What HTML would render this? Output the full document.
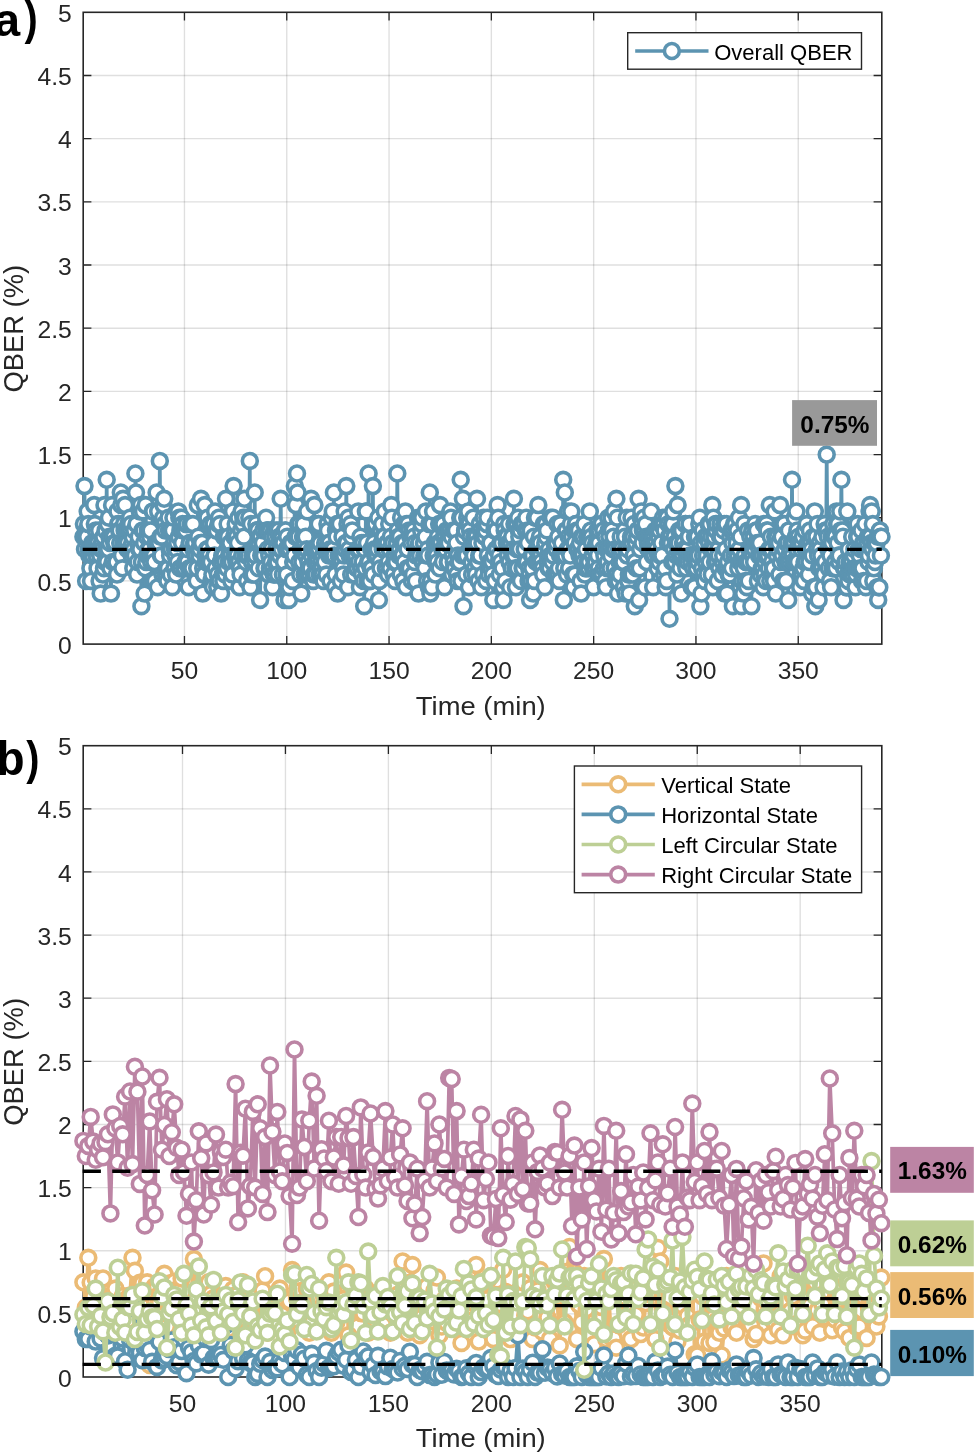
<!DOCTYPE html>
<html lang="en"><head><meta charset="utf-8"><title>QBER over time</title>
<style>html,body{margin:0;padding:0;background:#fff}body{width:975px;height:1453px;overflow:hidden}svg{display:block}</style>
</head><body>
<svg width="975" height="1453" viewBox="0 0 975 1453">
<rect width="975" height="1453" fill="#fff"/>
<defs>
<marker id="m_blue" markerUnits="userSpaceOnUse" markerWidth="24" markerHeight="24" refX="12" refY="12" viewBox="0 0 24 24" overflow="visible"><circle cx="12" cy="12" r="7.45" fill="#fff" stroke="#5c94b1" stroke-width="3.6"/></marker>
<marker id="m_orange" markerUnits="userSpaceOnUse" markerWidth="24" markerHeight="24" refX="12" refY="12" viewBox="0 0 24 24" overflow="visible"><circle cx="12" cy="12" r="7.45" fill="#fff" stroke="#ebbb75" stroke-width="3.6"/></marker>
<marker id="m_green" markerUnits="userSpaceOnUse" markerWidth="24" markerHeight="24" refX="12" refY="12" viewBox="0 0 24 24" overflow="visible"><circle cx="12" cy="12" r="7.45" fill="#fff" stroke="#bdcf95" stroke-width="3.6"/></marker>
<marker id="m_purple" markerUnits="userSpaceOnUse" markerWidth="24" markerHeight="24" refX="12" refY="12" viewBox="0 0 24 24" overflow="visible"><circle cx="12" cy="12" r="7.45" fill="#fff" stroke="#bc84a4" stroke-width="3.6"/></marker>
<clipPath id="ca"><rect x="0" y="0" width="975" height="700"/></clipPath>
<clipPath id="cb"><rect x="0" y="700" width="975" height="753"/></clipPath>
</defs>
<path d="M184.45 12.30V644.10M286.75 12.30V644.10M389.05 12.30V644.10M491.35 12.30V644.10M593.65 12.30V644.10M695.95 12.30V644.10M798.25 12.30V644.10" fill="none" stroke="#262626" stroke-opacity="0.15" stroke-width="1.35"/>
<path d="M83.20 580.92H881.80M83.20 517.74H881.80M83.20 454.56H881.80M83.20 391.38H881.80M83.20 328.20H881.80M83.20 265.02H881.80M83.20 201.84H881.80M83.20 138.66H881.80M83.20 75.48H881.80" fill="none" stroke="#262626" stroke-opacity="0.15" stroke-width="1.35"/>
<path d="M184.45 644.10v-8.20M184.45 12.30v8.20M286.75 644.10v-8.20M286.75 12.30v8.20M389.05 644.10v-8.20M389.05 12.30v8.20M491.35 644.10v-8.20M491.35 12.30v8.20M593.65 644.10v-8.20M593.65 12.30v8.20M695.95 644.10v-8.20M695.95 12.30v8.20M798.25 644.10v-8.20M798.25 12.30v8.20M83.20 580.92h8.20M881.80 580.92h-8.20M83.20 517.74h8.20M881.80 517.74h-8.20M83.20 454.56h8.20M881.80 454.56h-8.20M83.20 391.38h8.20M881.80 391.38h-8.20M83.20 328.20h8.20M881.80 328.20h-8.20M83.20 265.02h8.20M881.80 265.02h-8.20M83.20 201.84h8.20M881.80 201.84h-8.20M83.20 138.66h8.20M881.80 138.66h-8.20M83.20 75.48h8.20M881.80 75.48h-8.20" fill="none" stroke="#262626" stroke-width="1.3"/>
<rect x="83.20" y="12.30" width="798.60" height="631.80" fill="none" stroke="#262626" stroke-width="1.6"/>
<text transform="translate(184.45 679.30) scale(1.060 1)" text-anchor="middle" font-family='"Liberation Sans", Arial, Helvetica, sans-serif' font-size="23.3" fill="#262626">50</text>
<text transform="translate(286.75 679.30) scale(1.060 1)" text-anchor="middle" font-family='"Liberation Sans", Arial, Helvetica, sans-serif' font-size="23.3" fill="#262626">100</text>
<text transform="translate(389.05 679.30) scale(1.060 1)" text-anchor="middle" font-family='"Liberation Sans", Arial, Helvetica, sans-serif' font-size="23.3" fill="#262626">150</text>
<text transform="translate(491.35 679.30) scale(1.060 1)" text-anchor="middle" font-family='"Liberation Sans", Arial, Helvetica, sans-serif' font-size="23.3" fill="#262626">200</text>
<text transform="translate(593.65 679.30) scale(1.060 1)" text-anchor="middle" font-family='"Liberation Sans", Arial, Helvetica, sans-serif' font-size="23.3" fill="#262626">250</text>
<text transform="translate(695.95 679.30) scale(1.060 1)" text-anchor="middle" font-family='"Liberation Sans", Arial, Helvetica, sans-serif' font-size="23.3" fill="#262626">300</text>
<text transform="translate(798.25 679.30) scale(1.060 1)" text-anchor="middle" font-family='"Liberation Sans", Arial, Helvetica, sans-serif' font-size="23.3" fill="#262626">350</text>
<text transform="translate(71.80 653.70) scale(1.060 1)" text-anchor="end" font-family='"Liberation Sans", Arial, Helvetica, sans-serif' font-size="23.3" fill="#262626">0</text>
<text transform="translate(71.80 590.52) scale(1.060 1)" text-anchor="end" font-family='"Liberation Sans", Arial, Helvetica, sans-serif' font-size="23.3" fill="#262626">0.5</text>
<text transform="translate(71.80 527.34) scale(1.060 1)" text-anchor="end" font-family='"Liberation Sans", Arial, Helvetica, sans-serif' font-size="23.3" fill="#262626">1</text>
<text transform="translate(71.80 464.16) scale(1.060 1)" text-anchor="end" font-family='"Liberation Sans", Arial, Helvetica, sans-serif' font-size="23.3" fill="#262626">1.5</text>
<text transform="translate(71.80 400.98) scale(1.060 1)" text-anchor="end" font-family='"Liberation Sans", Arial, Helvetica, sans-serif' font-size="23.3" fill="#262626">2</text>
<text transform="translate(71.80 337.80) scale(1.060 1)" text-anchor="end" font-family='"Liberation Sans", Arial, Helvetica, sans-serif' font-size="23.3" fill="#262626">2.5</text>
<text transform="translate(71.80 274.62) scale(1.060 1)" text-anchor="end" font-family='"Liberation Sans", Arial, Helvetica, sans-serif' font-size="23.3" fill="#262626">3</text>
<text transform="translate(71.80 211.44) scale(1.060 1)" text-anchor="end" font-family='"Liberation Sans", Arial, Helvetica, sans-serif' font-size="23.3" fill="#262626">3.5</text>
<text transform="translate(71.80 148.26) scale(1.060 1)" text-anchor="end" font-family='"Liberation Sans", Arial, Helvetica, sans-serif' font-size="23.3" fill="#262626">4</text>
<text transform="translate(71.80 85.08) scale(1.060 1)" text-anchor="end" font-family='"Liberation Sans", Arial, Helvetica, sans-serif' font-size="23.3" fill="#262626">4.5</text>
<text transform="translate(71.80 21.90) scale(1.060 1)" text-anchor="end" font-family='"Liberation Sans", Arial, Helvetica, sans-serif' font-size="23.3" fill="#262626">5</text>
<text transform="translate(480.80 714.50) scale(1.062 1)" text-anchor="middle" font-family='"Liberation Sans", Arial, Helvetica, sans-serif' font-size="25.8" fill="#262626">Time (min)</text>
<text transform="translate(22.60 328.70) rotate(-90) scale(1.003 1)" text-anchor="middle" font-family='"Liberation Sans", Arial, Helvetica, sans-serif' font-size="27.3" fill="#262626">QBER (%)</text>
<polyline clip-path="url(#ca)" points="83.4,536.7 83.9,524.1 84.5,486.1 85.0,549.3 85.5,536.7 86.1,580.9 86.6,530.4 87.2,536.7 87.7,511.4 88.3,524.1 88.8,549.3 89.3,555.6 89.9,555.6 90.4,568.3 91.0,580.9 91.5,549.3 92.1,543.0 92.6,555.6 93.1,549.3 93.7,543.0 94.2,505.1 94.8,524.1 95.3,543.0 95.8,530.4 96.4,555.6 96.9,549.3 97.5,568.3 98.0,543.0 98.6,549.3 99.1,530.4 99.6,580.9 100.2,555.6 100.7,593.6 101.3,549.3 101.8,543.0 102.4,549.3 102.9,574.6 103.4,536.7 104.0,568.3 104.5,505.1 105.1,562.0 105.6,530.4 106.1,549.3 106.7,479.8 107.2,562.0 107.8,524.1 108.3,549.3 108.9,517.7 109.4,536.7 109.9,543.0 110.5,568.3 111.0,593.6 111.6,536.7 112.1,505.1 112.7,562.0 113.2,536.7 113.7,536.7 114.3,543.0 114.8,543.0 115.4,543.0 115.9,562.0 116.5,562.0 117.0,574.6 117.5,511.4 118.1,524.1 118.6,524.1 119.2,530.4 119.7,530.4 120.2,543.0 120.8,492.5 121.3,505.1 121.9,555.6 122.4,568.3 123.0,498.8 123.5,543.0 124.0,524.1 124.6,530.4 125.1,505.1 125.7,543.0 126.2,530.4 126.8,543.0 127.3,549.3 127.8,543.0 128.4,524.1 128.9,530.4 129.5,549.3 130.0,517.7 130.5,530.4 131.1,524.1 131.6,555.6 132.2,543.0 132.7,536.7 133.3,568.3 133.8,549.3 134.3,530.4 134.9,555.6 135.4,473.5 136.0,492.5 136.5,524.1 137.1,574.6 137.6,562.0 138.1,543.0 138.7,536.7 139.2,549.3 139.8,511.4 140.3,549.3 140.8,505.1 141.4,606.2 141.9,562.0 142.5,530.4 143.0,511.4 143.6,530.4 144.1,543.0 144.6,593.6 145.2,568.3 145.7,505.1 146.3,562.0 146.8,536.7 147.4,555.6 147.9,530.4 148.4,549.3 149.0,555.6 149.5,549.3 150.1,536.7 150.6,530.4 151.2,562.0 151.7,555.6 152.2,580.9 152.8,511.4 153.3,511.4 153.9,555.6 154.4,562.0 154.9,580.9 155.5,543.0 156.0,543.0 156.6,492.5 157.1,543.0 157.7,587.2 158.2,511.4 158.7,543.0 159.3,543.0 159.8,460.9 160.4,536.7 160.9,555.6 161.5,555.6 162.0,536.7 162.5,574.6 163.1,517.7 163.6,505.1 164.2,498.8 164.7,524.1 165.2,530.4 165.8,574.6 166.3,568.3 166.9,568.3 167.4,580.9 168.0,568.3 168.5,517.7 169.0,530.4 169.6,549.3 170.1,555.6 170.7,574.6 171.2,549.3 171.8,530.4 172.3,587.2 172.8,530.4 173.4,517.7 173.9,543.0 174.5,568.3 175.0,549.3 175.5,555.6 176.1,574.6 176.6,549.3 177.2,543.0 177.7,562.0 178.3,511.4 178.8,536.7 179.3,517.7 179.9,568.3 180.4,530.4 181.0,568.3 181.5,517.7 182.1,543.0 182.6,524.1 183.1,530.4 183.7,530.4 184.2,568.3 184.8,568.3 185.3,562.0 185.9,530.4 186.4,524.1 186.9,524.1 187.5,562.0 188.0,549.3 188.6,587.2 189.1,568.3 189.6,543.0 190.2,543.0 190.7,524.1 191.3,568.3 191.8,568.3 192.4,568.3 192.9,524.1 193.4,549.3 194.0,543.0 194.5,549.3 195.1,543.0 195.6,555.6 196.2,555.6 196.7,580.9 197.2,568.3 197.8,505.1 198.3,536.7 198.9,549.3 199.4,555.6 199.9,549.3 200.5,543.0 201.0,498.8 201.6,543.0 202.1,543.0 202.7,593.6 203.2,568.3 203.7,574.6 204.3,574.6 204.8,505.1 205.4,555.6 205.9,562.0 206.5,562.0 207.0,549.3 207.5,517.7 208.1,549.3 208.6,555.6 209.2,562.0 209.7,555.6 210.3,524.1 210.8,562.0 211.3,580.9 211.9,580.9 212.4,574.6 213.0,587.2 213.5,524.1 214.0,543.0 214.6,555.6 215.1,511.4 215.7,568.3 216.2,530.4 216.8,530.4 217.3,587.2 217.8,574.6 218.4,524.1 218.9,517.7 219.5,580.9 220.0,524.1 220.6,562.0 221.1,593.6 221.6,562.0 222.2,555.6 222.7,574.6 223.3,580.9 223.8,536.7 224.3,555.6 224.9,562.0 225.4,574.6 226.0,498.8 226.5,536.7 227.1,568.3 227.6,524.1 228.1,536.7 228.7,562.0 229.2,555.6 229.8,549.3 230.3,543.0 230.9,555.6 231.4,580.9 231.9,562.0 232.5,574.6 233.0,511.4 233.6,486.1 234.1,536.7 234.6,555.6 235.2,530.4 235.7,524.1 236.3,562.0 236.8,536.7 237.4,555.6 237.9,543.0 238.4,517.7 239.0,562.0 239.5,587.2 240.1,568.3 240.6,574.6 241.2,530.4 241.7,511.4 242.2,555.6 242.8,524.1 243.3,517.7 243.9,536.7 244.4,498.8 245.0,517.7 245.5,555.6 246.0,562.0 246.6,555.6 247.1,580.9 247.7,555.6 248.2,555.6 248.7,555.6 249.3,517.7 249.8,460.9 250.4,587.2 250.9,524.1 251.5,574.6 252.0,562.0 252.5,555.6 253.1,555.6 253.6,574.6 254.2,555.6 254.7,492.5 255.3,562.0 255.8,555.6 256.3,524.1 256.9,530.4 257.4,530.4 258.0,530.4 258.5,568.3 259.0,543.0 259.6,536.7 260.1,599.9 260.7,536.7 261.2,555.6 261.8,549.3 262.3,555.6 262.8,543.0 263.4,530.4 263.9,555.6 264.5,568.3 265.0,568.3 265.6,524.1 266.1,517.7 266.6,530.4 267.2,530.4 267.7,549.3 268.3,530.4 268.8,574.6 269.3,555.6 269.9,568.3 270.4,530.4 271.0,562.0 271.5,549.3 272.1,536.7 272.6,587.2 273.1,568.3 273.7,574.6 274.2,530.4 274.8,574.6 275.3,536.7 275.9,562.0 276.4,549.3 276.9,530.4 277.5,562.0 278.0,574.6 278.6,530.4 279.1,536.7 279.7,555.6 280.2,549.3 280.7,498.8 281.3,549.3 281.8,536.7 282.4,536.7 282.9,574.6 283.4,543.0 284.0,562.0 284.5,599.9 285.1,530.4 285.6,530.4 286.2,549.3 286.7,574.6 287.2,536.7 287.8,549.3 288.3,593.6 288.9,599.9 289.4,587.2 290.0,549.3 290.5,543.0 291.0,543.0 291.6,543.0 292.1,543.0 292.7,580.9 293.2,562.0 293.7,562.0 294.3,555.6 294.8,486.1 295.4,536.7 295.9,505.1 296.5,536.7 297.0,473.5 297.5,492.5 298.1,524.1 298.6,536.7 299.2,562.0 299.7,524.1 300.3,574.6 300.8,549.3 301.3,593.6 301.9,549.3 302.4,562.0 303.0,536.7 303.5,524.1 304.0,549.3 304.6,574.6 305.1,543.0 305.7,536.7 306.2,555.6 306.8,549.3 307.3,511.4 307.8,574.6 308.4,562.0 308.9,568.3 309.5,568.3 310.0,574.6 310.6,568.3 311.1,498.8 311.6,555.6 312.2,549.3 312.7,549.3 313.3,580.9 313.8,574.6 314.4,505.1 314.9,562.0 315.4,549.3 316.0,574.6 316.5,549.3 317.1,562.0 317.6,562.0 318.1,524.1 318.7,524.1 319.2,549.3 319.8,574.6 320.3,543.0 320.9,562.0 321.4,568.3 321.9,568.3 322.5,574.6 323.0,555.6 323.6,580.9 324.1,549.3 324.7,562.0 325.2,543.0 325.7,549.3 326.3,574.6 326.8,549.3 327.4,524.1 327.9,530.4 328.4,543.0 329.0,555.6 329.5,543.0 330.1,549.3 330.6,580.9 331.2,555.6 331.7,517.7 332.2,555.6 332.8,511.4 333.3,549.3 333.9,492.5 334.4,555.6 335.0,587.2 335.5,574.6 336.0,530.4 336.6,536.7 337.1,524.1 337.7,593.6 338.2,524.1 338.7,555.6 339.3,555.6 339.8,524.1 340.4,555.6 340.9,580.9 341.5,555.6 342.0,562.0 342.5,536.7 343.1,568.3 343.6,574.6 344.2,555.6 344.7,511.4 345.3,549.3 345.8,543.0 346.3,486.1 346.9,543.0 347.4,524.1 348.0,587.2 348.5,517.7 349.1,549.3 349.6,555.6 350.1,555.6 350.7,524.1 351.2,574.6 351.8,536.7 352.3,530.4 352.8,555.6 353.4,555.6 353.9,555.6 354.5,574.6 355.0,555.6 355.6,562.0 356.1,555.6 356.6,568.3 357.2,568.3 357.7,549.3 358.3,511.4 358.8,562.0 359.4,549.3 359.9,587.2 360.4,536.7 361.0,568.3 361.5,543.0 362.1,574.6 362.6,562.0 363.1,543.0 363.7,580.9 364.2,606.2 364.8,549.3 365.3,568.3 365.9,511.4 366.4,511.4 366.9,543.0 367.5,580.9 368.0,562.0 368.6,473.5 369.1,562.0 369.7,580.9 370.2,580.9 370.7,568.3 371.3,549.3 371.8,568.3 372.4,549.3 372.9,486.1 373.4,574.6 374.0,543.0 374.5,549.3 375.1,555.6 375.6,524.1 376.2,555.6 376.7,555.6 377.2,555.6 377.8,549.3 378.3,517.7 378.9,599.9 379.4,580.9 380.0,562.0 380.5,568.3 381.0,530.4 381.6,543.0 382.1,524.1 382.7,549.3 383.2,536.7 383.8,543.0 384.3,536.7 384.8,511.4 385.4,549.3 385.9,568.3 386.5,568.3 387.0,543.0 387.5,543.0 388.1,574.6 388.6,562.0 389.2,524.1 389.7,549.3 390.3,568.3 390.8,536.7 391.3,505.1 391.9,517.7 392.4,543.0 393.0,543.0 393.5,574.6 394.1,562.0 394.6,555.6 395.1,580.9 395.7,549.3 396.2,562.0 396.8,543.0 397.3,473.5 397.8,530.4 398.4,536.7 398.9,555.6 399.5,549.3 400.0,536.7 400.6,574.6 401.1,517.7 401.6,555.6 402.2,543.0 402.7,555.6 403.3,580.9 403.8,524.1 404.4,562.0 404.9,543.0 405.4,511.4 406.0,587.2 406.5,524.1 407.1,568.3 407.6,549.3 408.1,524.1 408.7,568.3 409.2,530.4 409.8,568.3 410.3,536.7 410.9,536.7 411.4,543.0 411.9,580.9 412.5,530.4 413.0,574.6 413.6,530.4 414.1,536.7 414.7,562.0 415.2,543.0 415.7,580.9 416.3,555.6 416.8,555.6 417.4,549.3 417.9,517.7 418.5,593.6 419.0,543.0 419.5,543.0 420.1,555.6 420.6,517.7 421.2,530.4 421.7,524.1 422.2,517.7 422.8,562.0 423.3,562.0 423.9,543.0 424.4,555.6 425.0,568.3 425.5,536.7 426.0,511.4 426.6,555.6 427.1,580.9 427.7,549.3 428.2,555.6 428.8,587.2 429.3,524.1 429.8,492.5 430.4,593.6 430.9,580.9 431.5,524.1 432.0,587.2 432.5,524.1 433.1,511.4 433.6,555.6 434.2,555.6 434.7,543.0 435.3,574.6 435.8,562.0 436.3,543.0 436.9,555.6 437.4,562.0 438.0,536.7 438.5,543.0 439.1,524.1 439.6,568.3 440.1,505.1 440.7,543.0 441.2,524.1 441.8,524.1 442.3,549.3 442.8,562.0 443.4,524.1 443.9,536.7 444.5,587.2 445.0,536.7 445.6,549.3 446.1,543.0 446.6,530.4 447.2,543.0 447.7,562.0 448.3,562.0 448.8,543.0 449.4,530.4 449.9,530.4 450.4,511.4 451.0,517.7 451.5,536.7 452.1,574.6 452.6,555.6 453.2,530.4 453.7,562.0 454.2,568.3 454.8,568.3 455.3,549.3 455.9,530.4 456.4,543.0 456.9,574.6 457.5,580.9 458.0,555.6 458.6,562.0 459.1,562.0 459.7,562.0 460.2,517.7 460.7,479.8 461.3,580.9 461.8,517.7 462.4,555.6 462.9,498.8 463.5,606.2 464.0,536.7 464.5,555.6 465.1,530.4 465.6,530.4 466.2,574.6 466.7,555.6 467.2,517.7 467.8,524.1 468.3,511.4 468.9,587.2 469.4,524.1 470.0,530.4 470.5,536.7 471.0,549.3 471.6,562.0 472.1,574.6 472.7,543.0 473.2,517.7 473.8,555.6 474.3,536.7 474.8,568.3 475.4,543.0 475.9,574.6 476.5,536.7 477.0,498.8 477.5,543.0 478.1,562.0 478.6,580.9 479.2,555.6 479.7,524.1 480.3,555.6 480.8,530.4 481.3,587.2 481.9,536.7 482.4,543.0 483.0,574.6 483.5,517.7 484.1,530.4 484.6,536.7 485.1,536.7 485.7,530.4 486.2,580.9 486.8,524.1 487.3,517.7 487.9,555.6 488.4,568.3 488.9,574.6 489.5,562.0 490.0,543.0 490.6,543.0 491.1,568.3 491.6,562.0 492.2,562.0 492.7,574.6 493.3,599.9 493.8,555.6 494.4,530.4 494.9,580.9 495.4,524.1 496.0,549.3 496.5,530.4 497.1,549.3 497.6,505.1 498.2,517.7 498.7,562.0 499.2,555.6 499.8,574.6 500.3,543.0 500.9,562.0 501.4,543.0 501.9,543.0 502.5,568.3 503.0,587.2 503.6,599.9 504.1,524.1 504.7,530.4 505.2,580.9 505.7,536.7 506.3,536.7 506.8,543.0 507.4,536.7 507.9,555.6 508.5,543.0 509.0,524.1 509.5,562.0 510.1,587.2 510.6,549.3 511.2,543.0 511.7,568.3 512.2,536.7 512.8,555.6 513.3,549.3 513.9,498.8 514.4,524.1 515.0,555.6 515.5,568.3 516.0,587.2 516.6,524.1 517.1,549.3 517.7,568.3 518.2,517.7 518.8,530.4 519.3,536.7 519.8,549.3 520.4,530.4 520.9,580.9 521.5,524.1 522.0,524.1 522.6,568.3 523.1,568.3 523.6,524.1 524.2,524.1 524.7,549.3 525.3,562.0 525.8,530.4 526.3,517.7 526.9,562.0 527.4,530.4 528.0,543.0 528.5,580.9 529.1,568.3 529.6,574.6 530.1,599.9 530.7,530.4 531.2,580.9 531.8,555.6 532.3,568.3 532.9,555.6 533.4,593.6 533.9,536.7 534.5,580.9 535.0,517.7 535.6,517.7 536.1,562.0 536.6,549.3 537.2,517.7 537.7,543.0 538.3,505.1 538.8,562.0 539.4,549.3 539.9,536.7 540.4,543.0 541.0,555.6 541.5,562.0 542.1,568.3 542.6,568.3 543.2,574.6 543.7,524.1 544.2,549.3 544.8,587.2 545.3,543.0 545.9,524.1 546.4,536.7 547.0,530.4 547.5,562.0 548.0,555.6 548.6,568.3 549.1,549.3 549.7,568.3 550.2,555.6 550.7,517.7 551.3,555.6 551.8,555.6 552.4,562.0 552.9,517.7 553.5,555.6 554.0,574.6 554.5,543.0 555.1,574.6 555.6,574.6 556.2,549.3 556.7,543.0 557.3,524.1 557.8,574.6 558.3,536.7 558.9,568.3 559.4,580.9 560.0,555.6 560.5,524.1 561.0,555.6 561.6,543.0 562.1,555.6 562.7,555.6 563.2,479.8 563.8,599.9 564.3,568.3 564.8,492.5 565.4,555.6 565.9,530.4 566.5,530.4 567.0,574.6 567.6,549.3 568.1,511.4 568.6,536.7 569.2,568.3 569.7,549.3 570.3,555.6 570.8,524.1 571.3,511.4 571.9,536.7 572.4,587.2 573.0,574.6 573.5,587.2 574.1,530.4 574.6,543.0 575.1,574.6 575.7,524.1 576.2,524.1 576.8,530.4 577.3,549.3 577.9,549.3 578.4,549.3 578.9,530.4 579.5,555.6 580.0,543.0 580.6,580.9 581.1,593.6 581.7,536.7 582.2,555.6 582.7,555.6 583.3,536.7 583.8,562.0 584.4,524.1 584.9,574.6 585.4,568.3 586.0,549.3 586.5,568.3 587.1,536.7 587.6,562.0 588.2,536.7 588.7,568.3 589.2,562.0 589.8,511.4 590.3,536.7 590.9,530.4 591.4,536.7 592.0,543.0 592.5,555.6 593.0,568.3 593.6,587.2 594.1,549.3 594.7,562.0 595.2,568.3 595.7,562.0 596.3,543.0 596.8,543.0 597.4,530.4 597.9,555.6 598.5,568.3 599.0,543.0 599.5,530.4 600.1,574.6 600.6,574.6 601.2,524.1 601.7,524.1 602.3,574.6 602.8,549.3 603.3,530.4 603.9,568.3 604.4,555.6 605.0,580.9 605.5,536.7 606.0,587.2 606.6,549.3 607.1,568.3 607.7,562.0 608.2,517.7 608.8,530.4 609.3,536.7 609.8,549.3 610.4,568.3 610.9,555.6 611.5,517.7 612.0,530.4 612.6,543.0 613.1,549.3 613.6,536.7 614.2,511.4 614.7,568.3 615.3,549.3 615.8,580.9 616.4,498.8 616.9,574.6 617.4,517.7 618.0,593.6 618.5,580.9 619.1,549.3 619.6,562.0 620.1,574.6 620.7,536.7 621.2,555.6 621.8,549.3 622.3,562.0 622.9,562.0 623.4,562.0 623.9,587.2 624.5,530.4 625.0,536.7 625.6,593.6 626.1,549.3 626.7,517.7 627.2,555.6 627.7,549.3 628.3,580.9 628.8,574.6 629.4,593.6 629.9,574.6 630.4,543.0 631.0,536.7 631.5,517.7 632.1,543.0 632.6,574.6 633.2,536.7 633.7,555.6 634.2,524.1 634.8,606.2 635.3,562.0 635.9,543.0 636.4,568.3 637.0,536.7 637.5,530.4 638.0,530.4 638.6,498.8 639.1,599.9 639.7,568.3 640.2,549.3 640.7,517.7 641.3,511.4 641.8,524.1 642.4,543.0 642.9,530.4 643.5,530.4 644.0,517.7 644.5,530.4 645.1,587.2 645.6,524.1 646.2,536.7 646.7,562.0 647.3,536.7 647.8,543.0 648.3,549.3 648.9,549.3 649.4,536.7 650.0,549.3 650.5,536.7 651.1,511.4 651.6,543.0 652.1,536.7 652.7,555.6 653.2,587.2 653.8,536.7 654.3,555.6 654.8,543.0 655.4,530.4 655.9,543.0 656.5,549.3 657.0,530.4 657.6,568.3 658.1,555.6 658.6,536.7 659.2,562.0 659.7,530.4 660.3,555.6 660.8,524.1 661.4,543.0 661.9,555.6 662.4,555.6 663.0,517.7 663.5,524.1 664.1,574.6 664.6,530.4 665.1,568.3 665.7,587.2 666.2,517.7 666.8,580.9 667.3,517.7 667.9,543.0 668.4,524.1 668.9,536.7 669.5,618.8 670.0,543.0 670.6,536.7 671.1,543.0 671.7,524.1 672.2,562.0 672.7,524.1 673.3,511.4 673.8,549.3 674.4,536.7 674.9,562.0 675.4,486.1 676.0,543.0 676.5,555.6 677.1,574.6 677.6,505.1 678.2,543.0 678.7,543.0 679.2,530.4 679.8,555.6 680.3,568.3 680.9,555.6 681.4,593.6 682.0,530.4 682.5,555.6 683.0,543.0 683.6,543.0 684.1,549.3 684.7,562.0 685.2,524.1 685.8,524.1 686.3,568.3 686.8,555.6 687.4,549.3 687.9,562.0 688.5,536.7 689.0,536.7 689.5,524.1 690.1,555.6 690.6,555.6 691.2,562.0 691.7,587.2 692.3,555.6 692.8,555.6 693.3,568.3 693.9,555.6 694.4,587.2 695.0,536.7 695.5,536.7 696.1,555.6 696.6,568.3 697.1,536.7 697.7,536.7 698.2,562.0 698.8,555.6 699.3,524.1 699.8,517.7 700.4,606.2 700.9,543.0 701.5,593.6 702.0,568.3 702.6,530.4 703.1,555.6 703.6,574.6 704.2,543.0 704.7,580.9 705.3,536.7 705.8,562.0 706.4,555.6 706.9,555.6 707.4,574.6 708.0,536.7 708.5,524.1 709.1,543.0 709.6,562.0 710.1,524.1 710.7,549.3 711.2,536.7 711.8,574.6 712.3,505.1 712.9,587.2 713.4,517.7 713.9,549.3 714.5,536.7 715.0,562.0 715.6,524.1 716.1,530.4 716.7,524.1 717.2,562.0 717.7,580.9 718.3,549.3 718.8,555.6 719.4,568.3 719.9,536.7 720.5,524.1 721.0,536.7 721.5,536.7 722.1,574.6 722.6,562.0 723.2,555.6 723.7,530.4 724.2,524.1 724.8,593.6 725.3,568.3 725.9,549.3 726.4,524.1 727.0,593.6 727.5,568.3 728.0,562.0 728.6,574.6 729.1,574.6 729.7,574.6 730.2,536.7 730.8,555.6 731.3,530.4 731.8,568.3 732.4,543.0 732.9,606.2 733.5,530.4 734.0,524.1 734.5,555.6 735.1,524.1 735.6,536.7 736.2,549.3 736.7,543.0 737.3,530.4 737.8,555.6 738.3,568.3 738.9,517.7 739.4,549.3 740.0,562.0 740.5,536.7 741.1,505.1 741.6,606.2 742.1,580.9 742.7,562.0 743.2,593.6 743.8,568.3 744.3,524.1 744.8,555.6 745.4,580.9 745.9,562.0 746.5,562.0 747.0,587.2 747.6,562.0 748.1,530.4 748.6,580.9 749.2,549.3 749.7,562.0 750.3,536.7 750.8,549.3 751.4,606.2 751.9,549.3 752.4,530.4 753.0,555.6 753.5,536.7 754.1,562.0 754.6,549.3 755.2,524.1 755.7,543.0 756.2,530.4 756.8,530.4 757.3,543.0 757.9,580.9 758.4,543.0 758.9,555.6 759.5,549.3 760.0,543.0 760.6,574.6 761.1,555.6 761.7,568.3 762.2,555.6 762.7,568.3 763.3,587.2 763.8,524.1 764.4,574.6 764.9,562.0 765.5,555.6 766.0,580.9 766.5,524.1 767.1,530.4 767.6,530.4 768.2,555.6 768.7,568.3 769.2,549.3 769.8,505.1 770.3,580.9 770.9,536.7 771.4,549.3 772.0,562.0 772.5,574.6 773.0,568.3 773.6,568.3 774.1,580.9 774.7,511.4 775.2,536.7 775.8,593.6 776.3,543.0 776.8,555.6 777.4,536.7 777.9,549.3 778.5,549.3 779.0,543.0 779.5,574.6 780.1,505.1 780.6,562.0 781.2,536.7 781.7,536.7 782.3,555.6 782.8,524.1 783.3,580.9 783.9,580.9 784.4,524.1 785.0,549.3 785.5,562.0 786.1,580.9 786.6,543.0 787.1,562.0 787.7,543.0 788.2,599.9 788.8,530.4 789.3,555.6 789.9,562.0 790.4,549.3 790.9,549.3 791.5,543.0 792.0,479.8 792.6,555.6 793.1,562.0 793.6,562.0 794.2,543.0 794.7,517.7 795.3,562.0 795.8,536.7 796.4,511.4 796.9,549.3 797.4,530.4 798.0,562.0 798.5,536.7 799.1,543.0 799.6,543.0 800.2,587.2 800.7,574.6 801.2,549.3 801.8,543.0 802.3,574.6 802.9,536.7 803.4,568.3 803.9,580.9 804.5,562.0 805.0,530.4 805.6,549.3 806.1,562.0 806.7,524.1 807.2,549.3 807.7,543.0 808.3,543.0 808.8,574.6 809.4,562.0 809.9,530.4 810.5,549.3 811.0,543.0 811.5,549.3 812.1,593.6 812.6,555.6 813.2,536.7 813.7,587.2 814.2,587.2 814.8,511.4 815.3,606.2 815.9,587.2 816.4,536.7 817.0,549.3 817.5,524.1 818.0,555.6 818.6,599.9 819.1,568.3 819.7,543.0 820.2,549.3 820.8,568.3 821.3,555.6 821.8,568.3 822.4,536.7 822.9,574.6 823.5,587.2 824.0,574.6 824.6,524.1 825.1,562.0 825.6,530.4 826.2,530.4 826.7,454.6 827.3,530.4 827.8,536.7 828.3,549.3 828.9,568.3 829.4,549.3 830.0,580.9 830.5,555.6 831.1,587.2 831.6,536.7 832.1,543.0 832.7,568.3 833.2,524.1 833.8,568.3 834.3,536.7 834.9,562.0 835.4,536.7 835.9,568.3 836.5,511.4 837.0,524.1 837.6,543.0 838.1,524.1 838.6,555.6 839.2,562.0 839.7,555.6 840.3,511.4 840.8,530.4 841.4,479.8 841.9,536.7 842.4,530.4 843.0,536.7 843.5,599.9 844.1,568.3 844.6,568.3 845.2,562.0 845.7,562.0 846.2,587.2 846.8,587.2 847.3,511.4 847.9,574.6 848.4,580.9 848.9,549.3 849.5,562.0 850.0,574.6 850.6,562.0 851.1,574.6 851.7,562.0 852.2,536.7 852.7,574.6 853.3,568.3 853.8,555.6 854.4,549.3 854.9,568.3 855.5,587.2 856.0,574.6 856.5,568.3 857.1,536.7 857.6,524.1 858.2,536.7 858.7,549.3 859.3,568.3 859.8,555.6 860.3,568.3 860.9,549.3 861.4,530.4 862.0,580.9 862.5,568.3 863.0,543.0 863.6,580.9 864.1,543.0 864.7,549.3 865.2,524.1 865.8,587.2 866.3,549.3 866.8,580.9 867.4,543.0 867.9,536.7 868.5,562.0 869.0,555.6 869.6,511.4 870.1,505.1 870.6,536.7 871.2,543.0 871.7,511.4 872.3,549.3 872.8,524.1 873.3,580.9 873.9,568.3 874.4,543.0 875.0,562.0 875.5,555.6 876.1,543.0 876.6,543.0 877.1,587.2 877.7,536.7 878.2,599.9 878.8,587.2 879.3,587.2 879.9,530.4 880.4,536.7 880.9,555.6 881.5,536.7" fill="none" stroke="#5c94b1" stroke-width="3.7" stroke-linejoin="round" marker-start="url(#m_blue)" marker-mid="url(#m_blue)" marker-end="url(#m_blue)"/>
<line x1="82.70" y1="549.33" x2="881.80" y2="549.33" stroke="#000" stroke-width="3.35" stroke-dasharray="14.7 14.7"/>
<rect x="627.7" y="32.7" width="233.8" height="36.5" fill="#fff" stroke="#262626" stroke-width="1.4"/>
<line x1="635.20" y1="51.00" x2="708.50" y2="51.00" stroke="#5c94b1" stroke-width="3.7"/>
<circle cx="671.85" cy="51.00" r="7.45" fill="#fff" stroke="#5c94b1" stroke-width="3.6"/>
<text transform="translate(714.20 59.60) scale(1.040 1)" text-anchor="start" font-family='"Liberation Sans", Arial, Helvetica, sans-serif' font-size="21.2" fill="#000">Overall QBER</text>
<rect x="792.10" y="400.10" width="84.90" height="45.70" fill="#999999"/>
<text transform="translate(834.85 432.55) scale(1.050 1)" text-anchor="middle" font-family='"Liberation Sans", Arial, Helvetica, sans-serif' font-size="23.2" font-weight="bold" fill="#000">0.75%</text>
<text transform="translate(-6.00 35.70) scale(1.000 1)" text-anchor="start" font-family='"Liberation Sans", Arial, Helvetica, sans-serif' font-size="47" font-weight="bold" fill="#000">a<tspan dx="4.4" dy="-1.6" font-size="46.6" textLength="13.2" lengthAdjust="spacingAndGlyphs">)</tspan></text>
<path d="M182.50 745.70V1377.00M285.45 745.70V1377.00M388.40 745.70V1377.00M491.35 745.70V1377.00M594.30 745.70V1377.00M697.25 745.70V1377.00M800.20 745.70V1377.00" fill="none" stroke="#262626" stroke-opacity="0.15" stroke-width="1.35"/>
<path d="M83.20 1313.87H881.80M83.20 1250.74H881.80M83.20 1187.61H881.80M83.20 1124.48H881.80M83.20 1061.35H881.80M83.20 998.22H881.80M83.20 935.09H881.80M83.20 871.96H881.80M83.20 808.83H881.80" fill="none" stroke="#262626" stroke-opacity="0.15" stroke-width="1.35"/>
<path d="M182.50 1377.00v-8.20M182.50 745.70v8.20M285.45 1377.00v-8.20M285.45 745.70v8.20M388.40 1377.00v-8.20M388.40 745.70v8.20M491.35 1377.00v-8.20M491.35 745.70v8.20M594.30 1377.00v-8.20M594.30 745.70v8.20M697.25 1377.00v-8.20M697.25 745.70v8.20M800.20 1377.00v-8.20M800.20 745.70v8.20M83.20 1313.87h8.20M881.80 1313.87h-8.20M83.20 1250.74h8.20M881.80 1250.74h-8.20M83.20 1187.61h8.20M881.80 1187.61h-8.20M83.20 1124.48h8.20M881.80 1124.48h-8.20M83.20 1061.35h8.20M881.80 1061.35h-8.20M83.20 998.22h8.20M881.80 998.22h-8.20M83.20 935.09h8.20M881.80 935.09h-8.20M83.20 871.96h8.20M881.80 871.96h-8.20M83.20 808.83h8.20M881.80 808.83h-8.20" fill="none" stroke="#262626" stroke-width="1.3"/>
<rect x="83.20" y="745.70" width="798.60" height="631.30" fill="none" stroke="#262626" stroke-width="1.6"/>
<text transform="translate(182.50 1412.20) scale(1.060 1)" text-anchor="middle" font-family='"Liberation Sans", Arial, Helvetica, sans-serif' font-size="23.3" fill="#262626">50</text>
<text transform="translate(285.45 1412.20) scale(1.060 1)" text-anchor="middle" font-family='"Liberation Sans", Arial, Helvetica, sans-serif' font-size="23.3" fill="#262626">100</text>
<text transform="translate(388.40 1412.20) scale(1.060 1)" text-anchor="middle" font-family='"Liberation Sans", Arial, Helvetica, sans-serif' font-size="23.3" fill="#262626">150</text>
<text transform="translate(491.35 1412.20) scale(1.060 1)" text-anchor="middle" font-family='"Liberation Sans", Arial, Helvetica, sans-serif' font-size="23.3" fill="#262626">200</text>
<text transform="translate(594.30 1412.20) scale(1.060 1)" text-anchor="middle" font-family='"Liberation Sans", Arial, Helvetica, sans-serif' font-size="23.3" fill="#262626">250</text>
<text transform="translate(697.25 1412.20) scale(1.060 1)" text-anchor="middle" font-family='"Liberation Sans", Arial, Helvetica, sans-serif' font-size="23.3" fill="#262626">300</text>
<text transform="translate(800.20 1412.20) scale(1.060 1)" text-anchor="middle" font-family='"Liberation Sans", Arial, Helvetica, sans-serif' font-size="23.3" fill="#262626">350</text>
<text transform="translate(71.80 1386.60) scale(1.060 1)" text-anchor="end" font-family='"Liberation Sans", Arial, Helvetica, sans-serif' font-size="23.3" fill="#262626">0</text>
<text transform="translate(71.80 1323.47) scale(1.060 1)" text-anchor="end" font-family='"Liberation Sans", Arial, Helvetica, sans-serif' font-size="23.3" fill="#262626">0.5</text>
<text transform="translate(71.80 1260.34) scale(1.060 1)" text-anchor="end" font-family='"Liberation Sans", Arial, Helvetica, sans-serif' font-size="23.3" fill="#262626">1</text>
<text transform="translate(71.80 1197.21) scale(1.060 1)" text-anchor="end" font-family='"Liberation Sans", Arial, Helvetica, sans-serif' font-size="23.3" fill="#262626">1.5</text>
<text transform="translate(71.80 1134.08) scale(1.060 1)" text-anchor="end" font-family='"Liberation Sans", Arial, Helvetica, sans-serif' font-size="23.3" fill="#262626">2</text>
<text transform="translate(71.80 1070.95) scale(1.060 1)" text-anchor="end" font-family='"Liberation Sans", Arial, Helvetica, sans-serif' font-size="23.3" fill="#262626">2.5</text>
<text transform="translate(71.80 1007.82) scale(1.060 1)" text-anchor="end" font-family='"Liberation Sans", Arial, Helvetica, sans-serif' font-size="23.3" fill="#262626">3</text>
<text transform="translate(71.80 944.69) scale(1.060 1)" text-anchor="end" font-family='"Liberation Sans", Arial, Helvetica, sans-serif' font-size="23.3" fill="#262626">3.5</text>
<text transform="translate(71.80 881.56) scale(1.060 1)" text-anchor="end" font-family='"Liberation Sans", Arial, Helvetica, sans-serif' font-size="23.3" fill="#262626">4</text>
<text transform="translate(71.80 818.43) scale(1.060 1)" text-anchor="end" font-family='"Liberation Sans", Arial, Helvetica, sans-serif' font-size="23.3" fill="#262626">4.5</text>
<text transform="translate(71.80 755.30) scale(1.060 1)" text-anchor="end" font-family='"Liberation Sans", Arial, Helvetica, sans-serif' font-size="23.3" fill="#262626">5</text>
<text transform="translate(480.80 1447.40) scale(1.062 1)" text-anchor="middle" font-family='"Liberation Sans", Arial, Helvetica, sans-serif' font-size="25.8" fill="#262626">Time (min)</text>
<text transform="translate(22.60 1061.85) rotate(-90) scale(1.003 1)" text-anchor="middle" font-family='"Liberation Sans", Arial, Helvetica, sans-serif' font-size="27.3" fill="#262626">QBER (%)</text>
<polyline clip-path="url(#cb)" points="83.4,1282.3 85.8,1307.6 88.3,1257.8 90.7,1282.6 93.2,1297.3 95.7,1278.5 98.1,1313.9 100.6,1309.5 103.0,1278.5 105.5,1300.2 107.9,1296.6 110.4,1297.7 112.8,1320.2 115.3,1288.6 117.8,1309.5 120.2,1301.8 122.7,1296.1 125.1,1300.3 127.6,1320.2 130.0,1295.4 132.5,1257.8 134.9,1270.8 137.4,1310.1 139.8,1282.7 142.3,1283.0 144.8,1292.8 147.2,1282.3 149.7,1364.9 152.1,1290.5 154.6,1286.3 157.0,1286.8 159.5,1294.4 161.9,1315.9 164.4,1273.8 166.9,1326.5 169.3,1283.5 171.8,1284.3 174.2,1281.7 176.7,1289.8 179.1,1291.5 181.6,1278.5 184.0,1326.5 186.5,1310.6 189.0,1311.1 191.4,1292.5 193.9,1259.1 196.3,1297.7 198.8,1289.3 201.2,1312.3 203.7,1293.6 206.1,1329.0 208.6,1282.3 211.0,1293.8 213.5,1298.2 216.0,1314.3 218.4,1301.1 220.9,1310.9 223.3,1299.5 225.8,1286.1 228.2,1329.0 230.7,1295.9 233.1,1289.4 235.6,1295.3 238.1,1319.7 240.5,1314.0 243.0,1282.3 245.4,1332.8 247.9,1311.0 250.3,1298.0 252.8,1301.0 255.2,1297.1 257.7,1323.1 260.2,1301.5 262.6,1290.4 265.1,1276.2 267.5,1332.8 270.0,1308.2 272.4,1319.7 274.9,1319.4 277.3,1305.5 279.8,1288.6 282.2,1314.8 284.7,1298.6 287.2,1332.8 289.6,1301.3 292.1,1270.1 294.5,1319.3 297.0,1298.0 299.4,1291.3 301.9,1302.3 304.3,1310.1 306.8,1288.6 309.3,1332.8 311.7,1323.1 314.2,1300.5 316.6,1298.0 319.1,1296.0 321.5,1309.1 324.0,1296.5 326.4,1299.3 328.9,1282.3 331.4,1332.8 333.8,1291.6 336.3,1322.5 338.7,1302.8 341.2,1306.9 343.6,1299.1 346.1,1272.6 348.5,1335.3 351.0,1313.1 353.4,1312.3 355.9,1289.8 358.4,1289.4 360.8,1312.9 363.3,1313.4 365.7,1288.6 368.2,1332.8 370.6,1295.9 373.1,1295.8 375.5,1310.4 378.0,1297.1 380.5,1295.0 382.9,1324.5 385.4,1288.6 387.8,1295.8 390.3,1332.8 392.7,1298.6 395.2,1287.8 397.6,1294.8 400.1,1312.1 402.6,1261.5 405.0,1315.5 407.5,1332.8 409.9,1282.7 412.4,1265.1 414.8,1314.9 417.3,1293.2 419.7,1335.3 422.2,1317.1 424.7,1293.0 427.1,1286.1 429.6,1306.4 432.0,1321.0 434.5,1290.6 436.9,1277.6 439.4,1335.3 441.8,1326.5 444.3,1299.9 446.7,1322.9 449.2,1299.3 451.7,1310.2 454.1,1313.8 456.6,1288.6 459.0,1292.7 461.5,1342.9 463.9,1290.3 466.4,1312.0 468.8,1282.8 471.3,1320.4 473.8,1302.9 476.2,1265.1 478.7,1341.6 481.1,1316.5 483.6,1324.4 486.0,1299.3 488.5,1279.1 490.9,1276.0 493.4,1339.1 495.9,1295.0 498.3,1295.1 500.8,1304.2 503.2,1269.7 505.7,1292.0 508.1,1297.6 510.6,1339.1 513.0,1306.6 515.5,1316.0 517.9,1291.5 520.4,1289.4 522.9,1282.3 525.3,1315.4 527.8,1311.3 530.2,1288.2 532.7,1339.1 535.1,1327.4 537.6,1290.3 540.0,1270.1 542.5,1331.7 545.0,1307.3 547.4,1317.6 549.9,1339.1 552.3,1324.2 554.8,1282.3 557.2,1297.2 559.7,1345.4 562.1,1293.7 564.6,1322.3 567.1,1271.8 569.5,1247.0 572.0,1273.8 574.4,1272.4 576.9,1339.1 579.3,1305.1 581.8,1322.1 584.2,1276.0 586.7,1309.1 589.1,1282.6 591.6,1277.6 594.1,1344.2 596.5,1302.0 599.0,1293.0 601.4,1306.9 603.9,1259.1 606.3,1339.1 608.8,1297.5 611.2,1337.1 613.7,1338.4 616.2,1347.7 618.6,1325.0 621.1,1276.0 623.5,1321.2 626.0,1297.7 628.4,1284.3 630.9,1339.1 633.3,1307.4 635.8,1314.7 638.3,1276.0 640.7,1334.1 643.2,1327.5 645.6,1303.1 648.1,1294.1 650.5,1324.8 653.0,1331.6 655.4,1339.1 657.9,1248.0 660.3,1261.5 662.8,1309.4 665.3,1311.4 667.7,1323.3 670.2,1320.6 672.6,1327.1 675.1,1276.0 677.5,1341.6 680.0,1330.4 682.4,1305.5 684.9,1290.6 687.4,1316.0 689.8,1324.5 692.3,1276.0 694.7,1354.3 697.2,1355.5 699.6,1319.4 702.1,1296.3 704.5,1341.6 707.0,1282.3 709.5,1342.9 711.9,1318.6 714.4,1341.8 716.8,1320.8 719.3,1332.8 721.7,1355.5 724.2,1328.4 726.6,1276.0 729.1,1308.4 731.6,1327.5 734.0,1327.7 736.5,1332.8 738.9,1292.9 741.4,1306.2 743.8,1286.7 746.3,1269.7 748.7,1319.1 751.2,1325.3 753.6,1339.1 756.1,1333.9 758.6,1286.9 761.0,1298.1 763.5,1263.4 765.9,1315.9 768.4,1304.2 770.8,1335.3 773.3,1321.3 775.7,1324.5 778.2,1330.0 780.7,1276.0 783.1,1335.3 785.6,1318.7 788.0,1318.6 790.5,1310.7 792.9,1296.3 795.4,1326.6 797.8,1282.3 800.3,1287.6 802.8,1335.3 805.2,1330.7 807.7,1309.0 810.1,1305.6 812.6,1326.2 815.0,1282.3 817.5,1310.2 819.9,1332.8 822.4,1304.2 824.8,1314.3 827.3,1317.4 829.8,1282.3 832.2,1330.3 834.7,1319.2 837.1,1312.8 839.6,1299.7 842.0,1327.4 844.5,1331.5 846.9,1282.3 849.4,1337.9 851.9,1312.4 854.3,1308.2 856.8,1327.3 859.2,1326.5 861.7,1310.4 864.1,1282.3 866.6,1337.9 869.0,1308.4 871.5,1305.2 874.0,1307.3 876.4,1326.5 878.9,1316.4 881.3,1277.6" fill="none" stroke="#ebbb75" stroke-width="3.7" stroke-linejoin="round" marker-start="url(#m_orange)" marker-mid="url(#m_orange)" marker-end="url(#m_orange)"/>
<polyline clip-path="url(#cb)" points="83.4,1331.5 85.8,1339.1 88.3,1339.0 90.7,1326.8 93.2,1320.2 95.7,1341.6 98.1,1327.2 100.6,1338.6 103.0,1358.1 105.5,1332.9 107.9,1335.4 110.4,1333.5 112.8,1324.0 115.3,1355.7 117.8,1356.3 120.2,1331.2 122.7,1338.6 125.1,1361.2 127.6,1369.8 130.0,1339.6 132.5,1336.3 134.9,1343.4 137.4,1310.1 139.8,1352.4 142.3,1360.2 144.8,1348.0 147.2,1345.1 149.7,1350.0 152.1,1361.8 154.6,1332.8 157.0,1366.9 159.5,1342.0 161.9,1360.4 164.4,1359.1 166.9,1356.0 169.3,1349.1 171.8,1340.4 174.2,1347.2 176.7,1365.3 179.1,1361.9 181.6,1351.0 184.0,1339.1 186.5,1373.2 189.0,1347.8 191.4,1352.2 193.9,1361.0 196.3,1363.4 198.8,1345.4 201.2,1354.8 203.7,1353.2 206.1,1339.1 208.6,1364.7 211.0,1340.2 213.5,1358.1 216.0,1357.8 218.4,1358.6 220.9,1355.0 223.3,1359.8 225.8,1325.2 228.2,1377.0 230.7,1345.0 233.1,1350.6 235.6,1368.5 238.1,1361.2 240.5,1345.1 243.0,1358.2 245.4,1345.4 247.9,1360.6 250.3,1362.9 252.8,1363.2 255.2,1377.0 257.7,1373.9 260.2,1363.8 262.6,1360.0 265.1,1356.6 267.5,1377.0 270.0,1361.8 272.4,1369.9 274.9,1367.5 277.3,1368.4 279.8,1360.7 282.2,1364.3 284.7,1352.9 287.2,1345.4 289.6,1377.0 292.1,1356.1 294.5,1359.4 297.0,1350.2 299.4,1367.3 301.9,1354.2 304.3,1358.7 306.8,1374.7 309.3,1377.0 311.7,1353.8 314.2,1362.8 316.6,1371.0 319.1,1377.0 321.5,1367.7 324.0,1363.8 326.4,1350.8 328.9,1367.9 331.4,1366.1 333.8,1366.3 336.3,1356.4 338.7,1352.2 341.2,1349.8 343.6,1365.7 346.1,1359.8 348.5,1345.4 351.0,1372.0 353.4,1369.5 355.9,1360.0 358.4,1377.0 360.8,1366.5 363.3,1351.5 365.7,1358.9 368.2,1356.3 370.6,1372.1 373.1,1365.2 375.5,1375.0 378.0,1355.8 380.5,1371.1 382.9,1371.6 385.4,1376.1 387.8,1366.6 390.3,1357.7 392.7,1369.0 395.2,1369.8 397.6,1372.5 400.1,1361.0 402.6,1368.4 405.0,1365.8 407.5,1369.0 409.9,1351.7 412.4,1364.6 414.8,1365.0 417.3,1377.0 419.7,1370.0 422.2,1371.3 424.7,1366.8 427.1,1361.8 429.6,1374.9 432.0,1374.9 434.5,1377.0 436.9,1374.5 439.4,1362.5 441.8,1374.8 444.3,1362.0 446.7,1370.4 449.2,1372.1 451.7,1370.2 454.1,1374.4 456.6,1368.7 459.0,1371.1 461.5,1377.0 463.9,1376.5 466.4,1368.3 468.8,1373.5 471.3,1377.0 473.8,1365.3 476.2,1362.9 478.7,1377.0 481.1,1372.1 483.6,1367.2 486.0,1369.4 488.5,1368.5 490.9,1358.1 493.4,1366.3 495.9,1374.8 498.3,1376.0 500.8,1369.8 503.2,1366.7 505.7,1367.5 508.1,1377.0 510.6,1370.7 513.0,1377.0 515.5,1367.9 517.9,1335.3 520.4,1377.0 522.9,1368.6 525.3,1371.8 527.8,1377.0 530.2,1369.4 532.7,1362.7 535.1,1377.0 537.6,1372.6 540.0,1372.9 542.5,1349.2 545.0,1372.8 547.4,1367.6 549.9,1369.3 552.3,1373.0 554.8,1368.1 557.2,1376.4 559.7,1363.5 562.1,1373.9 564.6,1375.5 567.1,1370.9 569.5,1377.0 572.0,1377.0 574.4,1377.0 576.9,1366.3 579.3,1370.9 581.8,1377.0 584.2,1351.7 586.7,1374.8 589.1,1377.0 591.6,1377.0 594.1,1377.0 596.5,1377.0 599.0,1377.0 601.4,1368.0 603.9,1355.5 606.3,1376.5 608.8,1373.4 611.2,1377.0 613.7,1373.4 616.2,1376.3 618.6,1377.0 621.1,1373.2 623.5,1376.2 626.0,1363.6 628.4,1355.5 630.9,1376.5 633.3,1373.7 635.8,1376.0 638.3,1366.0 640.7,1374.4 643.2,1377.0 645.6,1377.0 648.1,1377.0 650.5,1375.2 653.0,1377.0 655.4,1361.8 657.9,1370.4 660.3,1377.0 662.8,1374.8 665.3,1375.4 667.7,1366.6 670.2,1374.7 672.6,1377.0 675.1,1350.5 677.5,1372.8 680.0,1377.0 682.4,1377.0 684.9,1377.0 687.4,1377.0 689.8,1372.2 692.3,1377.0 694.7,1367.6 697.2,1364.4 699.6,1377.0 702.1,1377.0 704.5,1377.0 707.0,1376.2 709.5,1377.0 711.9,1361.2 714.4,1374.6 716.8,1371.6 719.3,1376.3 721.7,1371.8 724.2,1373.1 726.6,1377.0 729.1,1370.1 731.6,1372.4 734.0,1376.1 736.5,1364.4 738.9,1375.4 741.4,1374.9 743.8,1377.0 746.3,1377.0 748.7,1371.7 751.2,1375.4 753.6,1358.1 756.1,1369.3 758.6,1377.0 761.0,1373.3 763.5,1376.5 765.9,1374.5 768.4,1377.0 770.8,1369.1 773.3,1377.0 775.7,1377.0 778.2,1364.4 780.7,1374.5 783.1,1375.1 785.6,1377.0 788.0,1362.5 790.5,1377.0 792.9,1377.0 795.4,1367.8 797.8,1377.0 800.3,1369.0 802.8,1371.0 805.2,1377.0 807.7,1377.0 810.1,1377.0 812.6,1362.5 815.0,1375.6 817.5,1368.4 819.9,1377.0 822.4,1377.0 824.8,1372.2 827.3,1373.7 829.8,1375.6 832.2,1369.3 834.7,1376.8 837.1,1362.5 839.6,1377.0 842.0,1371.6 844.5,1377.0 846.9,1371.7 849.4,1377.0 851.9,1370.2 854.3,1377.0 856.8,1369.0 859.2,1364.4 861.7,1377.0 864.1,1377.0 866.6,1377.0 869.0,1377.0 871.5,1362.5 874.0,1374.6 876.4,1375.2 878.9,1377.0 881.3,1377.0" fill="none" stroke="#5c94b1" stroke-width="3.7" stroke-linejoin="round" marker-start="url(#m_blue)" marker-mid="url(#m_blue)" marker-end="url(#m_blue)"/>
<polyline clip-path="url(#cb)" points="83.4,1314.5 85.8,1324.0 88.3,1307.6 90.7,1325.2 93.2,1305.6 95.7,1288.6 98.1,1326.5 100.6,1315.8 103.0,1331.4 105.5,1362.5 107.9,1301.2 110.4,1317.0 112.8,1313.1 115.3,1332.8 117.8,1267.7 120.2,1326.9 122.7,1319.4 125.1,1332.5 127.6,1307.0 130.0,1307.3 132.5,1294.9 134.9,1339.1 137.4,1332.0 139.8,1311.1 142.3,1291.1 144.8,1332.8 147.2,1319.2 149.7,1311.7 152.1,1317.2 154.6,1317.8 157.0,1329.0 159.5,1281.2 161.9,1296.5 164.4,1287.4 166.9,1347.7 169.3,1313.3 171.8,1308.4 174.2,1294.9 176.7,1299.4 179.1,1319.3 181.6,1332.8 184.0,1273.8 186.5,1304.7 189.0,1313.5 191.4,1325.6 193.9,1335.3 196.3,1289.5 198.8,1266.4 201.2,1320.4 203.7,1301.6 206.1,1327.3 208.6,1335.3 211.0,1306.4 213.5,1279.9 216.0,1321.0 218.4,1302.3 220.9,1332.8 223.3,1311.3 225.8,1294.9 228.2,1314.3 230.7,1300.5 233.1,1321.8 235.6,1347.7 238.1,1300.1 240.5,1282.4 243.0,1313.3 245.4,1335.3 247.9,1284.8 250.3,1316.4 252.8,1301.5 255.2,1340.4 257.7,1326.4 260.2,1330.3 262.6,1298.7 265.1,1322.4 267.5,1332.8 270.0,1313.8 272.4,1310.7 274.9,1313.1 277.3,1293.7 279.8,1346.4 282.2,1329.4 284.7,1334.4 287.2,1320.6 289.6,1341.6 292.1,1275.0 294.5,1273.8 297.0,1314.2 299.4,1303.5 301.9,1305.2 304.3,1329.0 306.8,1275.0 309.3,1288.6 311.7,1284.0 314.2,1313.0 316.6,1331.5 319.1,1288.6 321.5,1311.3 324.0,1318.9 326.4,1307.2 328.9,1302.4 331.4,1329.0 333.8,1325.0 336.3,1257.8 338.7,1311.5 341.2,1308.2 343.6,1314.4 346.1,1302.2 348.5,1282.3 351.0,1340.4 353.4,1305.1 355.9,1295.4 358.4,1282.3 360.8,1283.3 363.3,1305.8 365.7,1332.8 368.2,1251.6 370.6,1300.7 373.1,1315.2 375.5,1295.9 378.0,1331.5 380.5,1312.0 382.9,1286.1 385.4,1304.4 387.8,1297.0 390.3,1306.0 392.7,1331.5 395.2,1314.6 397.6,1276.2 400.1,1312.1 402.6,1322.9 405.0,1306.0 407.5,1291.3 409.9,1329.0 412.4,1283.6 414.8,1322.9 417.3,1297.1 419.7,1297.9 422.2,1331.5 424.7,1300.5 427.1,1318.6 429.6,1273.8 432.0,1303.3 434.5,1311.5 436.9,1347.7 439.4,1316.2 441.8,1302.2 444.3,1309.6 446.7,1288.6 449.2,1295.0 451.7,1329.0 454.1,1289.4 456.6,1322.7 459.0,1310.6 461.5,1296.1 463.9,1268.9 466.4,1329.0 468.8,1283.3 471.3,1289.5 473.8,1323.6 476.2,1297.1 478.7,1315.7 481.1,1282.3 483.6,1329.0 486.0,1313.2 488.5,1324.8 490.9,1276.0 493.4,1320.0 495.9,1296.1 498.3,1355.0 500.8,1356.3 503.2,1257.8 505.7,1332.8 508.1,1294.6 510.6,1326.5 513.0,1301.3 515.5,1261.5 517.9,1302.7 520.4,1325.2 522.9,1301.6 525.3,1247.0 527.8,1248.0 530.2,1259.3 532.7,1295.7 535.1,1326.5 537.6,1297.7 540.0,1304.7 542.5,1276.0 545.0,1299.3 547.4,1305.2 549.9,1325.2 552.3,1276.0 554.8,1294.4 557.2,1279.8 559.7,1273.6 562.1,1249.5 564.6,1326.5 567.1,1295.4 569.5,1277.5 572.0,1276.0 574.4,1298.8 576.9,1276.0 579.3,1283.6 581.8,1293.7 584.2,1369.8 586.7,1301.0 589.1,1283.1 591.6,1276.1 594.1,1326.5 596.5,1300.8 599.0,1264.0 601.4,1288.4 603.9,1334.1 606.3,1293.9 608.8,1301.3 611.2,1289.1 613.7,1276.0 616.2,1280.2 618.6,1324.0 621.1,1283.3 623.5,1281.7 626.0,1317.5 628.4,1293.9 630.9,1273.5 633.3,1324.0 635.8,1273.7 638.3,1299.1 640.7,1291.9 643.2,1278.3 645.6,1249.5 648.1,1239.4 650.5,1324.0 653.0,1266.8 655.4,1285.0 657.9,1269.7 660.3,1347.7 662.8,1313.5 665.3,1284.6 667.7,1281.4 670.2,1277.8 672.6,1240.6 675.1,1324.0 677.5,1298.2 680.0,1281.4 682.4,1236.9 684.9,1287.3 687.4,1332.8 689.8,1291.8 692.3,1280.4 694.7,1269.7 697.2,1277.0 699.6,1289.1 702.1,1320.2 704.5,1261.5 707.0,1278.7 709.5,1279.7 711.9,1293.5 714.4,1304.5 716.8,1279.5 719.3,1319.4 721.7,1276.0 724.2,1285.8 726.6,1302.0 729.1,1281.8 731.6,1316.4 734.0,1294.1 736.5,1273.5 738.9,1289.2 741.4,1286.6 743.8,1299.7 746.3,1286.5 748.7,1316.4 751.2,1275.5 753.6,1288.4 756.1,1269.7 758.6,1294.2 761.0,1280.2 763.5,1282.9 765.9,1316.4 768.4,1301.1 770.8,1296.7 773.3,1285.7 775.7,1287.4 778.2,1253.3 780.7,1316.4 783.1,1271.5 785.6,1286.6 788.0,1279.4 790.5,1325.2 792.9,1269.7 795.4,1288.8 797.8,1270.5 800.3,1269.8 802.8,1313.9 805.2,1272.1 807.7,1245.7 810.1,1275.3 812.6,1274.9 815.0,1295.9 817.5,1267.6 819.9,1263.4 822.4,1313.9 824.8,1269.6 827.3,1253.3 829.8,1285.0 832.2,1261.4 834.7,1313.9 837.1,1267.7 839.6,1267.8 842.0,1295.9 844.5,1265.9 846.9,1316.4 849.4,1282.4 851.9,1285.0 854.3,1347.7 856.8,1268.4 859.2,1263.4 861.7,1273.8 864.1,1291.4 866.6,1278.4 869.0,1313.9 871.5,1161.1 874.0,1255.8 876.4,1288.4 878.9,1307.6 881.3,1298.7" fill="none" stroke="#bdcf95" stroke-width="3.7" stroke-linejoin="round" marker-start="url(#m_green)" marker-mid="url(#m_green)" marker-end="url(#m_green)"/>
<polyline clip-path="url(#cb)" points="83.4,1140.9 85.8,1156.0 88.3,1145.9 90.7,1116.9 93.2,1141.6 95.7,1159.8 98.1,1149.7 100.6,1143.4 103.0,1157.3 105.5,1142.2 107.9,1134.3 110.4,1213.4 112.8,1114.4 115.3,1128.5 117.8,1162.4 120.2,1126.0 122.7,1134.3 125.1,1096.7 127.6,1167.8 130.0,1091.5 132.5,1164.1 134.9,1066.8 137.4,1091.7 139.8,1183.9 142.3,1076.5 144.8,1225.5 147.2,1175.0 149.7,1121.4 152.1,1190.3 154.6,1214.5 157.0,1101.8 159.5,1077.8 161.9,1149.7 164.4,1125.0 166.9,1099.2 169.3,1156.0 171.8,1132.2 174.2,1104.3 176.7,1147.7 179.1,1175.0 181.6,1149.7 184.0,1172.3 186.5,1215.8 189.0,1193.7 191.4,1162.4 193.9,1241.6 196.3,1200.2 198.8,1131.3 201.2,1158.2 203.7,1214.5 206.1,1143.4 208.6,1175.1 211.0,1204.7 213.5,1172.4 216.0,1134.6 218.4,1187.6 220.9,1152.3 223.3,1157.0 225.8,1149.7 228.2,1187.6 230.7,1182.6 233.1,1186.2 235.6,1084.1 238.1,1222.0 240.5,1152.7 243.0,1155.7 245.4,1108.7 247.9,1208.4 250.3,1186.1 252.8,1111.9 255.2,1187.6 257.7,1104.3 260.2,1128.2 262.6,1193.9 265.1,1137.1 267.5,1212.1 270.0,1065.5 272.4,1131.8 274.9,1175.0 277.3,1111.9 279.8,1171.3 282.2,1181.3 284.7,1143.4 287.2,1152.9 289.6,1196.1 292.1,1243.7 294.5,1049.5 297.0,1195.0 299.4,1187.6 301.9,1119.4 304.3,1147.0 306.8,1181.3 309.3,1120.6 311.7,1081.6 314.2,1168.5 316.6,1095.8 319.1,1220.7 321.5,1149.2 324.0,1158.5 326.4,1171.0 328.9,1120.7 331.4,1181.3 333.8,1157.5 336.3,1137.1 338.7,1183.8 341.2,1136.9 343.6,1165.3 346.1,1116.0 348.5,1137.9 351.0,1183.8 353.4,1137.1 355.9,1176.0 358.4,1217.0 360.8,1107.4 363.3,1174.5 365.7,1187.6 368.2,1152.5 370.6,1113.5 373.1,1157.1 375.5,1188.9 378.0,1198.6 380.5,1185.4 382.9,1168.4 385.4,1111.1 387.8,1181.3 390.3,1157.6 392.7,1124.5 395.2,1177.2 397.6,1187.6 400.1,1154.4 402.6,1128.3 405.0,1185.5 407.5,1201.0 409.9,1162.4 412.4,1218.3 414.8,1204.3 417.3,1168.7 419.7,1233.1 422.2,1217.0 424.7,1180.7 427.1,1101.2 429.6,1187.6 432.0,1168.3 434.5,1143.4 436.9,1181.3 439.4,1124.5 441.8,1168.2 444.3,1158.9 446.7,1187.6 449.2,1077.9 451.7,1079.0 454.1,1193.9 456.6,1111.1 459.0,1224.4 461.5,1176.2 463.9,1149.7 466.4,1201.0 468.8,1196.1 471.3,1183.4 473.8,1149.7 476.2,1219.4 478.7,1158.6 481.1,1114.8 483.6,1200.2 486.0,1179.0 488.5,1162.4 490.9,1235.6 493.4,1236.7 495.9,1199.0 498.3,1238.1 500.8,1128.3 503.2,1194.8 505.7,1222.0 508.1,1156.0 510.6,1199.7 513.0,1183.8 515.5,1116.0 517.9,1193.9 520.4,1119.4 522.9,1189.1 525.3,1130.8 527.8,1203.4 530.2,1203.4 532.7,1162.4 535.1,1229.3 537.6,1171.9 540.0,1155.4 542.5,1168.6 545.0,1187.6 547.4,1183.6 549.9,1162.4 552.3,1196.1 554.8,1152.0 557.2,1152.8 559.7,1187.6 562.1,1109.8 564.6,1172.5 567.1,1187.6 569.5,1156.0 572.0,1226.0 574.4,1145.6 576.9,1256.4 579.3,1187.6 581.8,1219.4 584.2,1162.4 586.7,1249.0 589.1,1186.3 591.6,1148.1 594.1,1200.2 596.5,1211.4 599.0,1168.7 601.4,1231.8 603.9,1125.9 606.3,1209.6 608.8,1168.7 611.2,1239.4 613.7,1212.9 616.2,1130.8 618.6,1233.1 621.1,1191.1 623.5,1212.1 626.0,1154.2 628.4,1206.5 630.9,1202.5 633.3,1175.0 635.8,1234.3 638.3,1186.6 640.7,1200.4 643.2,1172.5 645.6,1219.4 648.1,1188.0 650.5,1133.3 653.0,1200.2 655.4,1180.4 657.9,1162.4 660.3,1204.7 662.8,1144.3 665.3,1206.5 667.7,1193.3 670.2,1168.7 672.6,1226.8 675.1,1127.0 677.5,1206.5 680.0,1214.5 682.4,1162.4 684.9,1226.8 687.4,1197.5 689.8,1200.2 692.3,1103.6 694.7,1181.9 697.2,1162.4 699.6,1200.2 702.1,1185.9 704.5,1151.0 707.0,1193.9 709.5,1132.1 711.9,1200.2 714.4,1169.0 716.8,1168.7 719.3,1197.7 721.7,1151.0 724.2,1205.7 726.6,1249.0 729.1,1204.7 731.6,1175.0 734.0,1256.4 736.5,1168.9 738.9,1258.8 741.4,1246.6 743.8,1198.2 746.3,1181.3 748.7,1219.4 751.2,1206.8 753.6,1263.7 756.1,1170.2 758.6,1212.9 761.0,1180.8 763.5,1220.7 765.9,1175.0 768.4,1192.2 770.8,1206.5 773.3,1171.2 775.7,1156.7 778.2,1190.2 780.7,1206.5 783.1,1198.9 785.6,1175.0 788.0,1185.1 790.5,1209.6 792.9,1187.6 795.4,1162.9 797.8,1263.7 800.3,1211.9 802.8,1206.5 805.2,1159.1 807.7,1193.8 810.1,1184.4 812.6,1198.6 815.0,1175.0 817.5,1216.7 819.9,1233.1 822.4,1205.8 824.8,1154.2 827.3,1200.2 829.8,1078.5 832.2,1133.3 834.7,1209.5 837.1,1239.1 839.6,1175.0 842.0,1218.3 844.5,1203.2 846.9,1255.2 849.4,1157.9 851.9,1198.0 854.3,1130.8 856.8,1198.6 859.2,1206.5 861.7,1175.0 864.1,1186.3 866.6,1175.0 869.0,1212.9 871.5,1240.4 874.0,1193.9 876.4,1213.4 878.9,1199.7 881.3,1223.2" fill="none" stroke="#bc84a4" stroke-width="3.7" stroke-linejoin="round" marker-start="url(#m_purple)" marker-mid="url(#m_purple)" marker-end="url(#m_purple)"/>
<line x1="82.70" y1="1171.20" x2="881.80" y2="1171.20" stroke="#000" stroke-width="3.35" stroke-dasharray="18.2 11.3"/>
<line x1="82.70" y1="1298.59" x2="881.80" y2="1298.59" stroke="#000" stroke-width="3.35" stroke-dasharray="18.2 11.3"/>
<line x1="82.70" y1="1305.66" x2="881.80" y2="1305.66" stroke="#000" stroke-width="3.35" stroke-dasharray="18.2 11.3"/>
<line x1="82.70" y1="1364.37" x2="881.80" y2="1364.37" stroke="#000" stroke-width="3.35" stroke-dasharray="18.2 11.3"/>
<rect x="574.4" y="766.0" width="287.2" height="126.7" fill="#fff" stroke="#262626" stroke-width="1.4"/>
<line x1="581.60" y1="784.30" x2="654.80" y2="784.30" stroke="#ebbb75" stroke-width="3.7"/>
<circle cx="618.20" cy="784.30" r="7.45" fill="#fff" stroke="#ebbb75" stroke-width="3.6"/>
<text transform="translate(661.20 792.90) scale(1.040 1)" text-anchor="start" font-family='"Liberation Sans", Arial, Helvetica, sans-serif' font-size="21.2" fill="#000">Vertical State</text>
<line x1="581.60" y1="814.40" x2="654.80" y2="814.40" stroke="#5c94b1" stroke-width="3.7"/>
<circle cx="618.20" cy="814.40" r="7.45" fill="#fff" stroke="#5c94b1" stroke-width="3.6"/>
<text transform="translate(661.20 823.00) scale(1.040 1)" text-anchor="start" font-family='"Liberation Sans", Arial, Helvetica, sans-serif' font-size="21.2" fill="#000">Horizontal State</text>
<line x1="581.60" y1="844.50" x2="654.80" y2="844.50" stroke="#bdcf95" stroke-width="3.7"/>
<circle cx="618.20" cy="844.50" r="7.45" fill="#fff" stroke="#bdcf95" stroke-width="3.6"/>
<text transform="translate(661.20 853.10) scale(1.040 1)" text-anchor="start" font-family='"Liberation Sans", Arial, Helvetica, sans-serif' font-size="21.2" fill="#000">Left Circular State</text>
<line x1="581.60" y1="874.60" x2="654.80" y2="874.60" stroke="#bc84a4" stroke-width="3.7"/>
<circle cx="618.20" cy="874.60" r="7.45" fill="#fff" stroke="#bc84a4" stroke-width="3.6"/>
<text transform="translate(661.20 883.20) scale(1.040 1)" text-anchor="start" font-family='"Liberation Sans", Arial, Helvetica, sans-serif' font-size="21.2" fill="#000">Right Circular State</text>
<rect x="890.20" y="1146.90" width="83.60" height="45.90" fill="#bc84a4"/>
<text transform="translate(932.30 1179.45) scale(1.050 1)" text-anchor="middle" font-family='"Liberation Sans", Arial, Helvetica, sans-serif' font-size="23.2" font-weight="bold" fill="#000">1.63%</text>
<rect x="890.20" y="1220.40" width="83.60" height="45.90" fill="#bdcf95"/>
<text transform="translate(932.30 1252.95) scale(1.050 1)" text-anchor="middle" font-family='"Liberation Sans", Arial, Helvetica, sans-serif' font-size="23.2" font-weight="bold" fill="#000">0.62%</text>
<rect x="890.20" y="1272.10" width="83.60" height="45.90" fill="#ebbb75"/>
<text transform="translate(932.30 1304.65) scale(1.050 1)" text-anchor="middle" font-family='"Liberation Sans", Arial, Helvetica, sans-serif' font-size="23.2" font-weight="bold" fill="#000">0.56%</text>
<rect x="890.20" y="1329.90" width="83.60" height="46.20" fill="#5c94b1"/>
<text transform="translate(932.30 1362.60) scale(1.050 1)" text-anchor="middle" font-family='"Liberation Sans", Arial, Helvetica, sans-serif' font-size="23.2" font-weight="bold" fill="#000">0.10%</text>
<text transform="translate(-3.20 775.30) scale(0.950 1)" text-anchor="start" font-family='"Liberation Sans", Arial, Helvetica, sans-serif' font-size="48" font-weight="bold" fill="#000">b<tspan dx="1.6" dy="-1.4" font-size="46.6" textLength="13.9" lengthAdjust="spacingAndGlyphs">)</tspan></text>
</svg>
</body></html>
